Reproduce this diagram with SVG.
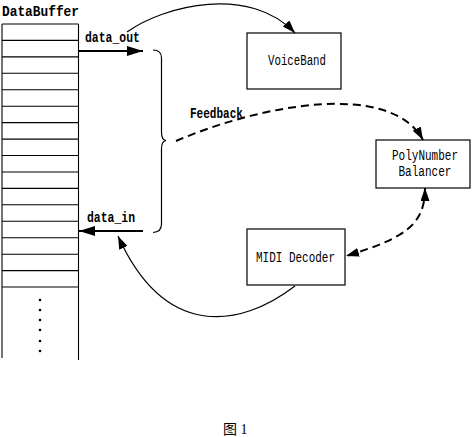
<svg xmlns="http://www.w3.org/2000/svg" width="474" height="437" viewBox="0 0 474 437">
<style>
.box{fill:#fff;stroke:#000;stroke-width:1.2}
.lbl{font-family:"Liberation Mono","DejaVu Sans Mono",monospace;font-size:14px;fill:#000}
.b{font-weight:bold}
.grid{stroke:#000;stroke-width:1.1}
.solid{fill:none;stroke:#000;stroke-width:1.2}
.thick{fill:none;stroke:#000;stroke-width:2}
.dash{fill:none;stroke:#000;stroke-width:2;stroke-dasharray:8 5}
</style>
<defs>
<marker id="ah" markerUnits="userSpaceOnUse" markerWidth="17" markerHeight="11" refX="16" refY="5" orient="auto-start-reverse" viewBox="0 0 17 11">
<path d="M0,0 L16,5 L0,10 Z" fill="#000"/>
</marker>
<marker id="ahs" markerUnits="userSpaceOnUse" markerWidth="14" markerHeight="10" refX="13" refY="4.5" orient="auto-start-reverse" viewBox="0 0 14 10">
<path d="M0,0 L13,4.5 L0,9 Z" fill="#000"/>
</marker>
</defs>

<g id="DataBuffer">
<text class="lbl b" x="2" y="16" font-size="13" textLength="77" lengthAdjust="spacingAndGlyphs">DataBuffer</text>
<line class="grid" x1="2" y1="24" x2="2" y2="358" stroke="#777"/>
<line class="grid" x1="78.5" y1="24" x2="78.5" y2="360"/>
<g class="grid">
<line x1="2" y1="24" x2="78.5" y2="24"/>
<line x1="2" y1="40.4" x2="78.5" y2="40.4"/>
<line x1="2" y1="56.9" x2="78.5" y2="56.9"/>
<line x1="2" y1="73.3" x2="78.5" y2="73.3"/>
<line x1="2" y1="89.8" x2="78.5" y2="89.8"/>
<line x1="2" y1="106.2" x2="78.5" y2="106.2"/>
<line x1="2" y1="122.6" x2="78.5" y2="122.6"/>
<line x1="2" y1="139.1" x2="78.5" y2="139.1"/>
<line x1="2" y1="155.5" x2="78.5" y2="155.5"/>
<line x1="2" y1="172" x2="78.5" y2="172"/>
<line x1="2" y1="188.4" x2="78.5" y2="188.4"/>
<line x1="2" y1="204.8" x2="78.5" y2="204.8"/>
<line x1="2" y1="221.3" x2="78.5" y2="221.3"/>
<line x1="2" y1="237.7" x2="78.5" y2="237.7"/>
<line x1="2" y1="254.2" x2="78.5" y2="254.2"/>
<line x1="2" y1="270.6" x2="78.5" y2="270.6"/>
<line x1="2" y1="287" x2="78.5" y2="287"/>
</g>
<g fill="#000">
<circle cx="40" cy="300" r="1.3"/>
<circle cx="40" cy="310" r="1.3"/>
<circle cx="40" cy="320" r="1.3"/>
<circle cx="40" cy="330" r="1.3"/>
<circle cx="40" cy="341" r="1.3"/>
<circle cx="40" cy="351" r="1.3"/>
</g>
</g>

<g id="VoiceBand">
<rect class="box" x="247" y="33" width="94" height="56"/>
<text class="lbl" x="268" y="65" textLength="58" lengthAdjust="spacingAndGlyphs">VoiceBand</text>
</g>

<g id="PolyNumberBalancer">
<rect class="box" x="376" y="140" width="94" height="48"/>
<text class="lbl" x="425" y="159.5" font-size="12.5" text-anchor="middle" textLength="66" lengthAdjust="spacingAndGlyphs">PolyNumber</text>
<text class="lbl" x="425" y="175.5" font-size="12.5" text-anchor="middle" textLength="53" lengthAdjust="spacingAndGlyphs">Balancer</text>
</g>

<g id="MIDIDecoder">
<rect class="box" x="247" y="229" width="98" height="56"/>
<text class="lbl" x="256" y="262" textLength="79" lengthAdjust="spacingAndGlyphs">MIDI Decoder</text>
</g>

<g id="connectors">
<line class="thick" x1="79" y1="51" x2="143" y2="51" marker-end="url(#ah)"/>
<text class="lbl b" x="85" y="41.5" font-size="13" textLength="55" lengthAdjust="spacingAndGlyphs">data_out</text>
<line class="thick" x1="143" y1="231" x2="79" y2="231" marker-end="url(#ah)"/>
<text class="lbl b" x="87" y="221.5" font-size="13" textLength="48" lengthAdjust="spacingAndGlyphs">data_in</text>
<path class="solid" d="M153,50 Q161.5,50 161.5,58 L161.5,132 Q161.5,140 166,140.5 Q161.5,141 161.5,149 L161.5,224 Q161.5,232 153,232.5"/>
<path class="solid" d="M127,32 C165,5 250,-15 295,33" marker-end="url(#ahs)"/>
<path class="dash" d="M176,141 C260,105 390,80 423,140" marker-end="url(#ahs)"/>
<text class="lbl b" x="190" y="118" font-size="13" textLength="53" lengthAdjust="spacingAndGlyphs">Feedback</text>
<path class="dash" d="M425,188 C425,225 405,238 346,256" marker-start="url(#ahs)" marker-end="url(#ahs)"/>
<path class="solid" d="M295,286 C240,328 165,340 118,236" marker-end="url(#ahs)"/>
</g>

<text x="223" y="434" font-family="'Liberation Serif','Noto Sans CJK SC',serif" font-size="14" fill="#000">图 1</text>
</svg>
